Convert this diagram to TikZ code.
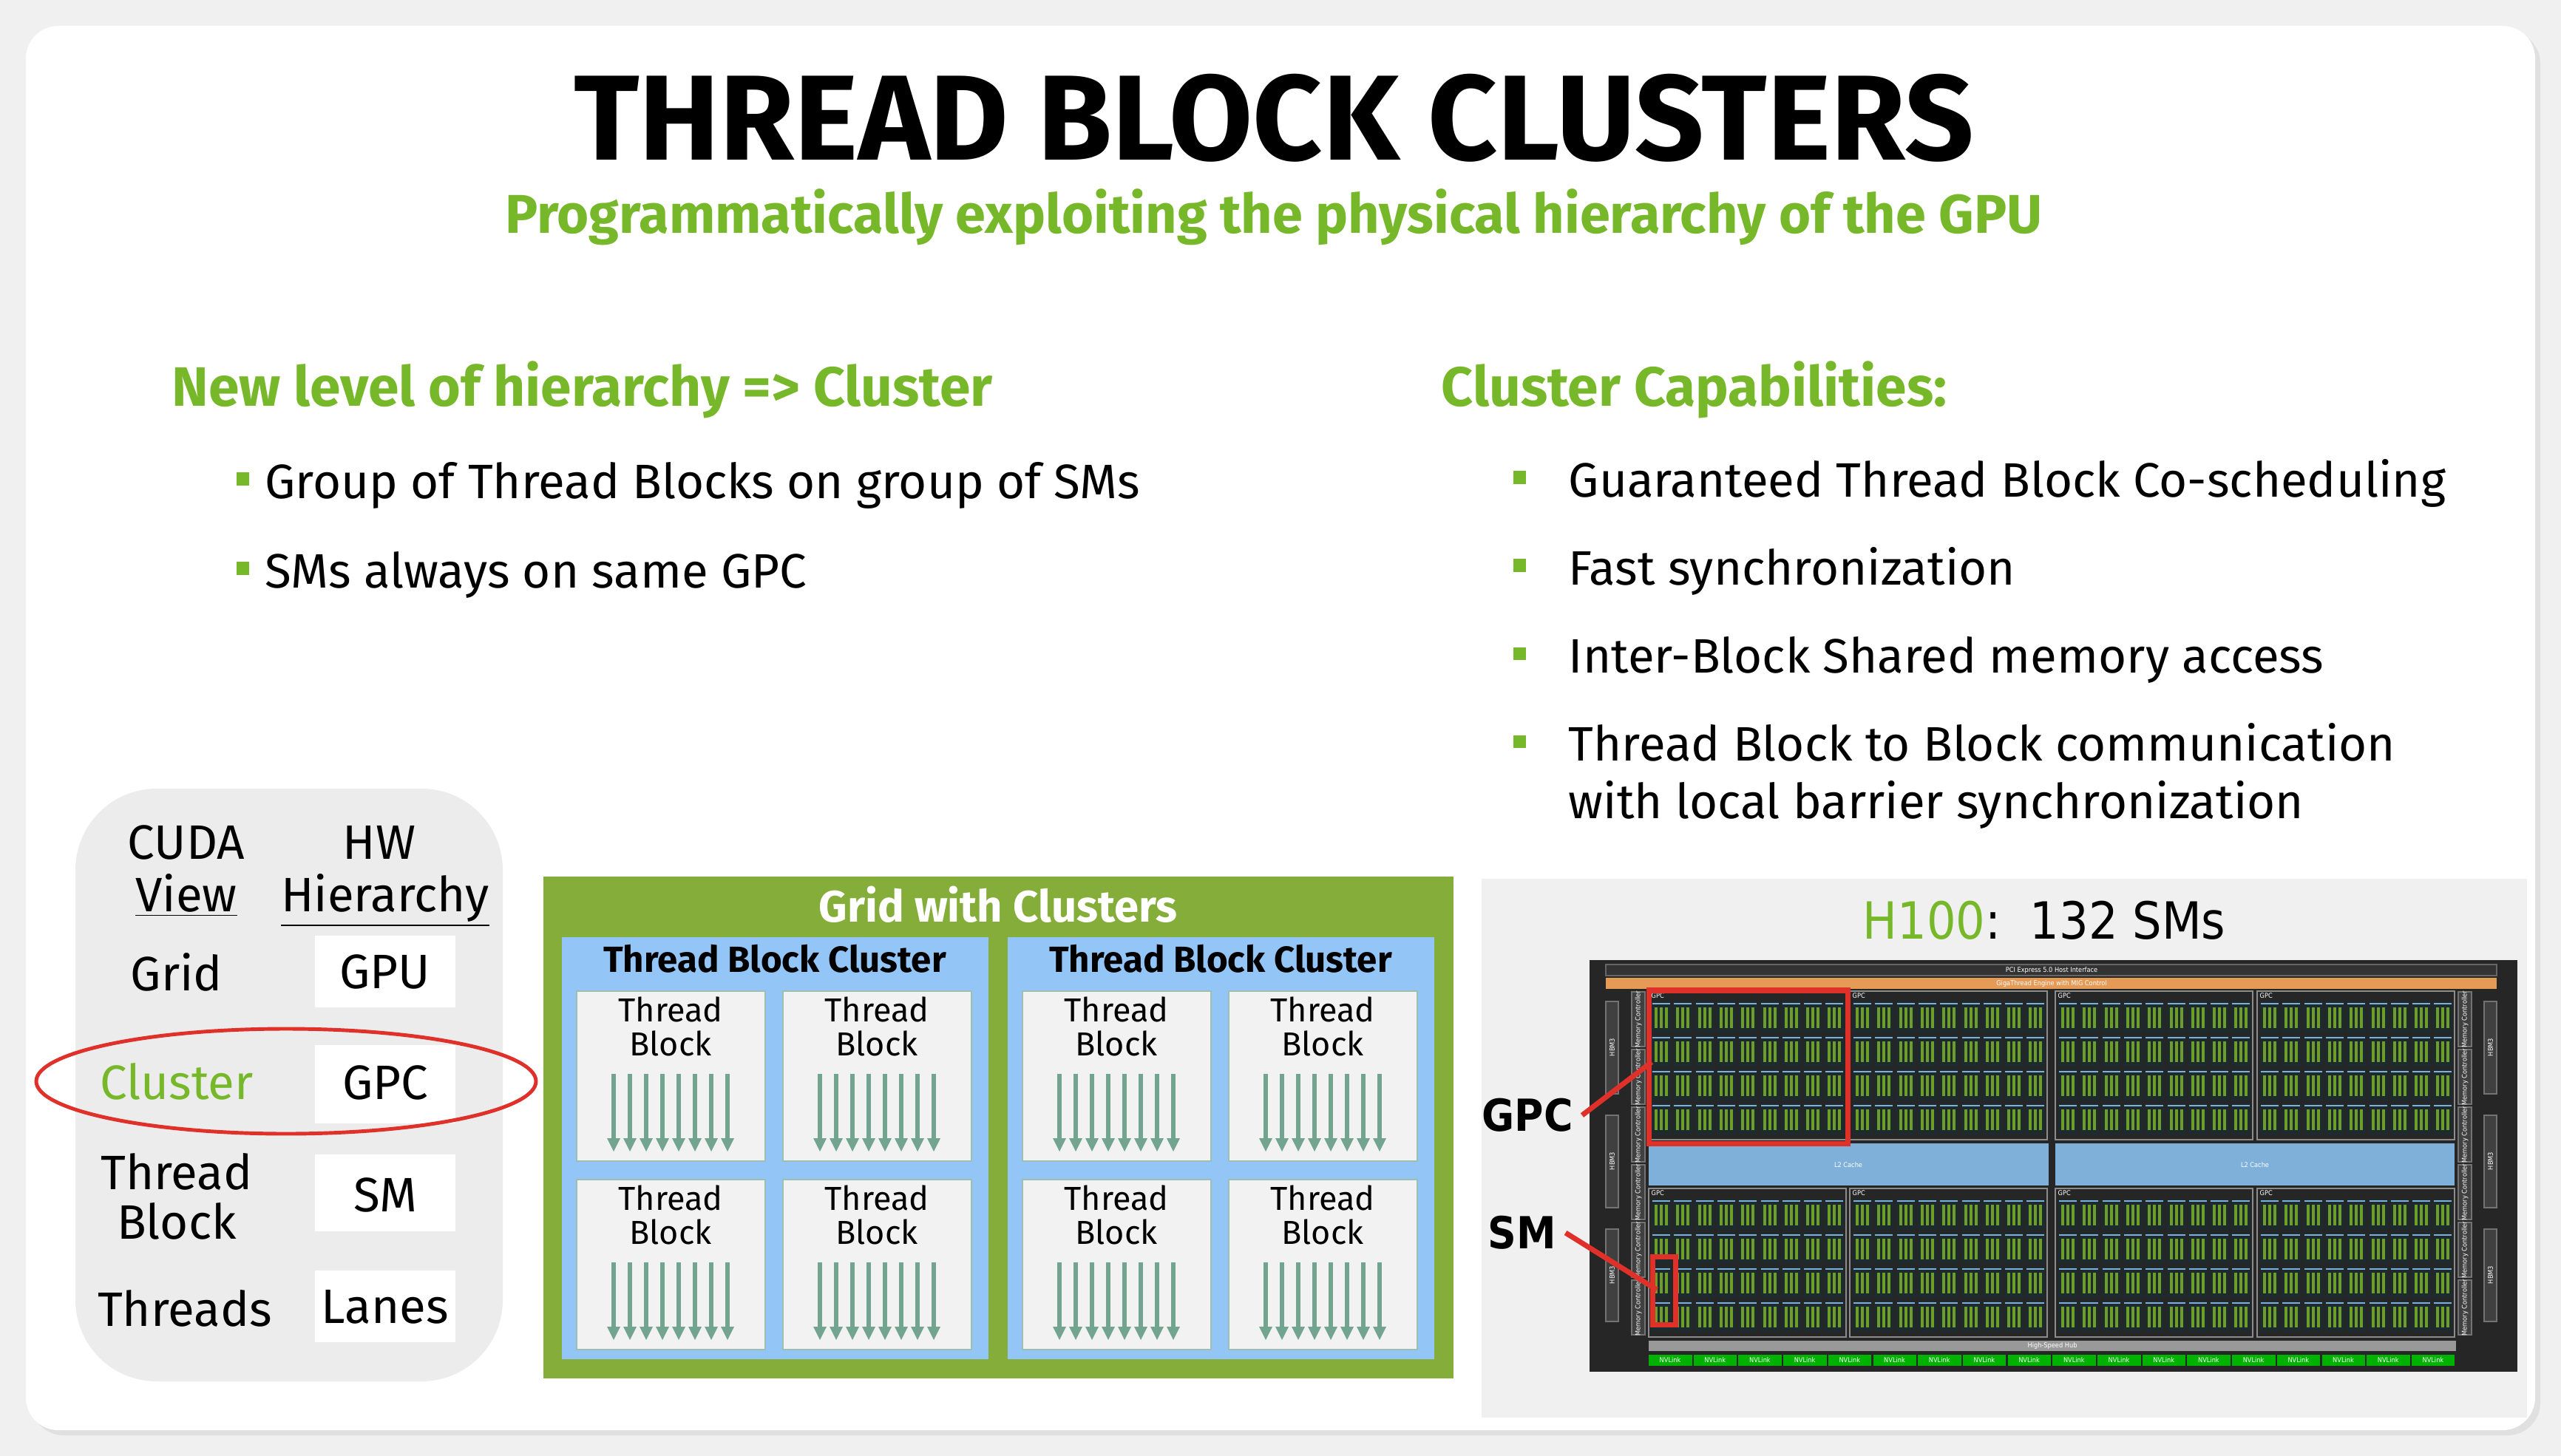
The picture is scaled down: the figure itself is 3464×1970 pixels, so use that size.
\documentclass[tikz,border=0pt]{standalone}
\usepackage{fontspec}
\setmainfont{Fira Sans}
\newfontfamily\condf{DejaVu Sans Condensed}
\definecolor{nvg}{HTML}{76B82A}
\definecolor{gridg}{HTML}{84AD3A}
\definecolor{clblue}{HTML}{93C6F6}
\definecolor{tbfill}{HTML}{F2F2F2}
\definecolor{arr}{HTML}{72A491}
\definecolor{panel}{HTML}{ECECEC}
\definecolor{die}{HTML}{262626}
\definecolor{smcell}{HTML}{1E2B2E}
\definecolor{smg}{HTML}{6E9E2A}
\definecolor{l2}{HTML}{7EB0DA}
\definecolor{orng}{HTML}{E59A55}
\definecolor{hred}{HTML}{E0302A}
\tikzset{
  body/.style={font=\fontsize{18.6}{22}\selectfont, inner sep=0pt},
  gtxt/.style={body, text=nvg, font=\fontsize{21.3}{25}\selectfont\bfseries},
  bsq/.style={fill=nvg, minimum size=0.17cm, inner sep=0pt},
  wbox/.style={fill=white, draw=none},
  tb/.style={fill=tbfill, draw=arr!70, line width=0.5pt},
  tiny/.style={text=white, font=\fontsize{2.6}{3}\selectfont\condf, inner sep=0pt},
  hl/.style={draw=hred, line width=2pt}
}
\begin{document}
\begin{tikzpicture}[x=0.01cm,y=-0.01cm]
\useasboundingbox (0,0) rectangle (3464,1970);
\fill[panel!80] (0,0) rectangle (3464,1970);
\fill[black!12, rounded corners=0.44cm] (42,42) rectangle (3436,1942);
\fill[white, rounded corners=0.44cm] (35,35) rectangle (3429,1935);

% titles
\node[font=\fontsize{46.6}{52}\selectfont\bfseries, anchor=base] (title) at (1723,217) {THREAD BLOCK CLUSTERS};
\node[text=nvg, font=\fontsize{21}{25}\selectfont\bfseries, anchor=base] (sub) at (1723,316) {Programmatically exploiting the physical hierarchy of the GPU};

% left text
\node[gtxt, anchor=base west] (h1) at (232,549) {New level of hierarchy => Cluster};
\node[bsq] (b1) at (328,648) {};
\node[body, anchor=base west] (t1) at (358,674) {Group of Thread Blocks on group of SMs};
\node[bsq] (b2) at (328,769) {};
\node[body, anchor=base west] (t2) at (358,795) {SMs always on same GPC};

% right text
\node[gtxt, anchor=base west] (h2) at (1949,549) {Cluster Capabilities:};
\foreach \yy/\tt in {650/Guaranteed Thread Block Co-scheduling, 769/Fast synchronization, 888/Inter-Block Shared memory access, 1007/Thread Block to Block communication}{
  \node[bsq] at (2055,\yy-4) {};
  \node[body, anchor=base west] at (2121,\yy+22) {\tt};
}
\node[body, anchor=base west] (t7) at (2121,1107) {with local barrier synchronization};

% left hierarchy panel
\fill[panel, rounded corners=1.1cm] (102,1067) rectangle (680,1869);
\node[body, anchor=base] (cuda) at (252,1162) {CUDA};
\node[body, anchor=base] (view) at (252,1233) {\underline{View}};
\node[body, anchor=base] (hw) at (513,1162) {HW};
\node[body, anchor=base] (hier) at (521,1233) {\underline{Hierarchy}};
\fill[wbox] (426,1266) rectangle (616,1363);
\fill[wbox] (426,1414) rectangle (616,1520);
\fill[wbox] (426,1562) rectangle (616,1666);
\fill[wbox] (426,1719) rectangle (616,1816);
\node[body] (grid) at (239,1315) {Grid};
\node[body] (gpu) at (521,1315) {GPU};
\node[body, text=nvg] (clu) at (239,1463) {Cluster};
\node[body] (gpc) at (521,1465) {GPC};
\node[body, align=center] (tbk) at (239,1619) {Thread\\[-3pt]Block};
\node[body] (sm) at (521,1617) {SM};
\node[body] (thr) at (250,1770) {Threads};
\node[body] (lan) at (521,1768) {Lanes};
\draw[hred, line width=1.4pt] (387,1463) ellipse [x radius=338, y radius=71];

% Grid with clusters
\fill[gridg] (735,1186) rectangle (1966,1865);
\node[text=white, font=\fontsize{17}{20}\selectfont\bfseries] (gwc) at (1350,1224) {Grid with Clusters};
\foreach \cx/\nm in {760/c1,1363/c2}{
  \fill[clblue] (\cx,1268) rectangle ++(577,571);
  \node[font=\fontsize{14}{17}\selectfont\bfseries] (\nm) at (\cx+288,1297) {Thread Block Cluster};
  \foreach \bx in {20,299}{
    \foreach \by in {1341,1596}{
      \draw[tb] (\cx+\bx,\by) rectangle ++(255,230);
      \node[align=center, font=\fontsize{12.8}{13}\selectfont, inner sep=0pt] at (\cx+\bx+127,\by+48) {Thread\\Block};
      \foreach \k in {0,...,7}{
        \draw[draw=arr, line width=1.5pt] (\cx+\bx+50+\k*22,\by+112) -- (\cx+\bx+50+\k*22,\by+200);
        \fill[arr] (\cx+\bx+41+\k*22,\by+199) -- (\cx+\bx+59+\k*22,\by+199) -- (\cx+\bx+50+\k*22,\by+217) -- cycle;
      }
    }
  }
}

% H100 panel
\fill[black!6] (2004,1189) rectangle (3418,1918);
\node[font=\fontsize{19.7}{24}\selectfont\condf, anchor=base] (h100) at (2765,1270) {\textcolor{nvg}{H100}:\ \ 132 SMs};
\fill[die] (2150,1299) rectangle (3405,1856);
\draw[black!60, fill=black!80] (2172,1305) rectangle (3377,1320);
\node[tiny] at (2775,1312.5) {PCI Express 5.0 Host Interface};
\fill[orng] (2172,1323) rectangle (3377,1338);
\node[tiny] at (2775,1330.5) {GigaThread Engine with MIG Control};
% memory controllers and HBM
\foreach \mx in {2207,3325}{
  \foreach \k in {0,...,5}{
    \draw[black!55, fill=black!75] (\mx,1342+\k*78) rectangle ++(18,74);
    \node[tiny, rotate=90] at (\mx+9,1379+\k*78) {Memory Controller};
  }
}
\foreach \hx in {2172,3360}{
  \foreach \k in {0,...,2}{
    \draw[black!55, fill=black!75] (\hx,1355+\k*154) rectangle ++(17,125);
    \node[tiny, rotate=90] at (\hx+8.5,1417+\k*154) {HBM3};
  }
}
% GPCs
\foreach \gx in {2230,2502,2780,3053}{
  \foreach \gy in {1341,1608}{
    \draw[black!45, fill=black!85, line width=0.4pt] (\gx,\gy) rectangle ++(267,201);
    \node[tiny, anchor=north west] at (\gx+3,\gy+2) {GPC};
    \foreach \i in {0,...,8}{
      \foreach \j in {0,...,3}{
        \fill[smcell] (\gx+4+\i*29.3,\gy+14+\j*46) rectangle ++(26,42);
        \fill[smg] (\gx+8+\i*29.3,\gy+22+\j*46) rectangle ++(4,28);
        \fill[smg] (\gx+15+\i*29.3,\gy+22+\j*46) rectangle ++(4,28);
        \fill[smg] (\gx+22+\i*29.3,\gy+22+\j*46) rectangle ++(4,28);
        \fill[l2] (\gx+5+\i*29.3,\gy+16+\j*46) rectangle ++(24,2);
      }
    }
  }
}
\fill[l2] (2230,1547) rectangle (2771,1604);
\fill[l2] (2780,1547) rectangle (3320,1604);
\node[tiny] at (2500,1576) {L2 Cache};
\node[tiny] at (3050,1576) {L2 Cache};
\fill[black!40] (2230,1814) rectangle (3322,1828);
\node[tiny] at (2776,1821) {High-Speed Hub};
\foreach \k in {0,...,17}{
  \fill[green!70!black] (2230+\k*60.7,1833) rectangle ++(58.5,15);
  \node[tiny] at (2259+\k*60.7,1840.5) {NVLink};
}
% highlights
\draw[hl] (2230,1340) rectangle (2499,1547);
\draw[hl] (2235,1700) rectangle (2266,1792);
\node[font=\fontsize{17}{20}\selectfont\condf\bfseries] (gpcl) at (2066,1509) {GPC};
\node[font=\fontsize{17}{20}\selectfont\condf\bfseries] (sml) at (2059,1668) {SM};
\coordinate (gpct) at (2234,1437);
\coordinate (smt) at (2241,1745);
\draw[hred, line width=2pt] (gpcl.east) -- (gpct);
\draw[hred, line width=2pt] (sml.east) -- (smt);
\end{tikzpicture}
\end{document}
